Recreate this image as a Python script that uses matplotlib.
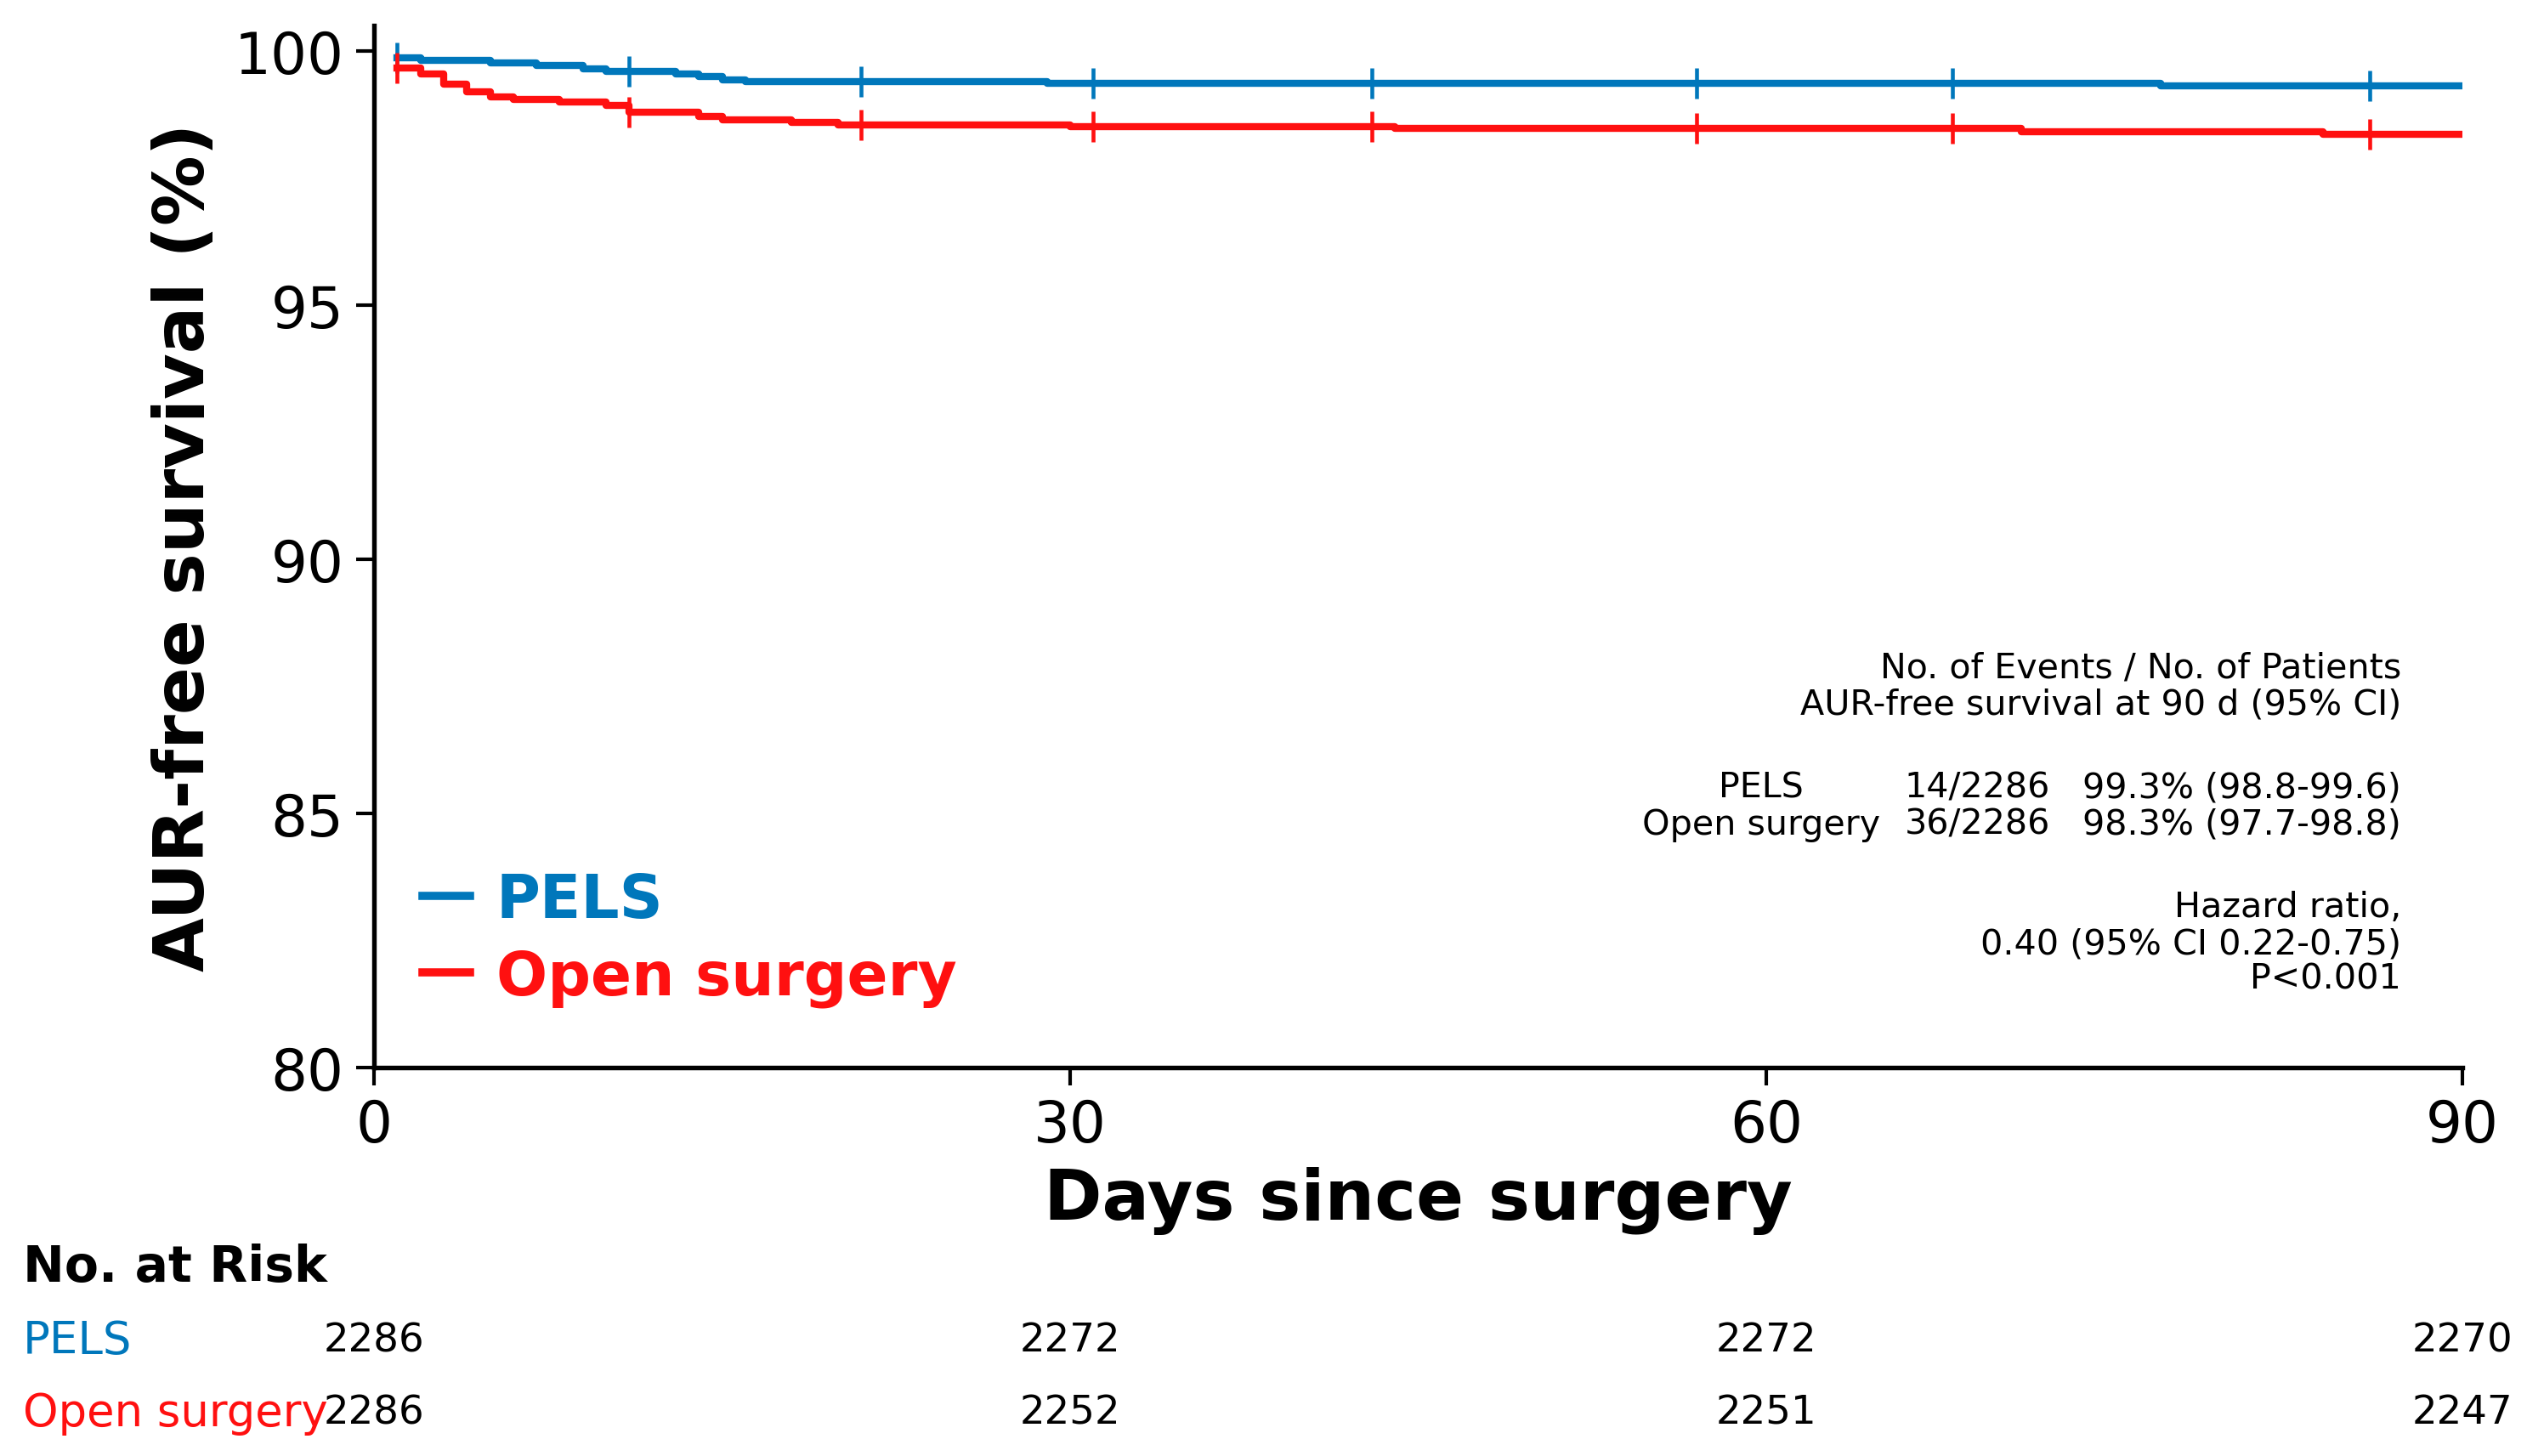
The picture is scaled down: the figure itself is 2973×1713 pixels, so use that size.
import matplotlib
matplotlib.use("Agg")
import matplotlib.pyplot as plt
import matplotlib.transforms as mtransforms

# Kaplan-Meier steps (day, AUR-free survival %)
pels_days = [1, 2, 5, 7, 9, 10, 13, 14, 15, 16, 29, 77, 90]
pels_surv = [99.87, 99.82, 99.77, 99.71, 99.65, 99.60, 99.54, 99.49, 99.43, 99.40, 99.36, 99.31, 99.31]
open_days = [1, 2, 3, 4, 5, 6, 8, 10, 11, 14, 15, 18, 20, 30, 44, 71, 84, 90]
open_surv = [99.66, 99.55, 99.34, 99.20, 99.10, 99.04, 98.99, 98.93, 98.80, 98.71, 98.65, 98.60,
             98.54, 98.51, 98.47, 98.41, 98.36, 98.36]

# censoring marks
censor_days = [1, 11, 21, 31, 43, 57, 68, 86]

# number at risk
risk_days = [0, 30, 60, 90]
pels_risk = [2286, 2272, 2272, 2270]
open_risk = [2286, 2252, 2251, 2247]

blue = "#0077bb"
red = "#ff1010"


def surv_at(days, surv, t):
    val = surv[0]
    for d, s in zip(days, surv):
        if d <= t:
            val = s
    return val


fig = plt.figure(figsize=(2973 / 300, 1714 / 300), dpi=300)
ax = fig.add_axes([0.148, 0.2666, 0.8265, 0.7153])

for days, surv, col, name in [(pels_days, pels_surv, blue, "PELS"),
                              (open_days, open_surv, red, "Open surgery")]:
    ax.step(days, surv, where="post", color=col, lw=2.0, label=name)
    cy = [surv_at(days, surv, t) for t in censor_days]
    ax.plot(censor_days, cy, ls="none", marker="|", ms=8.5, mew=1.1, color=col)

ax.set_xlim(0, 90)
ax.set_ylim(80, 100.5)
ax.set_xticks([0, 30, 60, 90])
ax.set_yticks([80, 85, 90, 95, 100])
ax.tick_params(labelsize=16.2, width=1.0, length=5)
for s in ["top", "right"]:
    ax.spines[s].set_visible(False)
for s in ["left", "bottom"]:
    ax.spines[s].set_linewidth(1.3)

ax.set_xlabel("Days since surgery", fontsize=19.8, fontweight="bold", labelpad=3.5)
ax.set_ylabel("AUR-free survival (%)", fontsize=19.8, fontweight="bold", labelpad=4.5)

leg = ax.legend(loc="center left", bbox_to_anchor=(0.023, 0.1234), frameon=False,
                handlelength=0.8, handletextpad=0.43, labelspacing=0.3,
                borderpad=0, borderaxespad=0, prop={"weight": "bold", "size": 17})
for txt, line, col in zip(leg.get_texts(), leg.get_lines(), [blue, red]):
    txt.set_color(col)
    line.set_linewidth(2.3)

# summary text block
def fy(py):
    return 1 - py / 1714


def fx(px):
    return px / 2973


tk = dict(fontsize=9.9, va="center")
fig.text(fx(2825), fy(787), "No. of Events / No. of Patients", ha="right", **tk)
fig.text(fx(2825), fy(829), "AUR-free survival at 90 d (95% CI)", ha="right", **tk)
fig.text(fx(2072), fy(928), "PELS", ha="center", **tk)
fig.text(fx(2072), fy(971), "Open surgery", ha="center", **tk)
fig.text(fx(2412), fy(928), "14/2286", ha="right", **tk)
fig.text(fx(2412), fy(971), "36/2286", ha="right", **tk)
fig.text(fx(2825), fy(928), "99.3% (98.8-99.6)", ha="right", **tk)
fig.text(fx(2825), fy(971), "98.3% (97.7-98.8)", ha="right", **tk)
fig.text(fx(2825), fy(1068), "Hazard ratio,", ha="right", **tk)
fig.text(fx(2825), fy(1111), "0.40 (95% CI 0.22-0.75)", ha="right", **tk)
fig.text(fx(2825), fy(1153), "P<0.001", ha="right", **tk)

# number at risk table
trans = mtransforms.blended_transform_factory(ax.transData, fig.transFigure)
fig.text(fx(27), fy(1492), "No. at Risk", fontsize=14, fontweight="bold", va="center")
fig.text(fx(27), fy(1578), "PELS", fontsize=12.7, color=blue, va="center")
fig.text(fx(27), fy(1663), "Open surgery", fontsize=12.7, color=red, va="center")
for d, a, b in zip(risk_days, pels_risk, open_risk):
    ax.text(d, fy(1578), str(a), transform=trans, fontsize=11.2, ha="center", va="center",
            clip_on=False)
    ax.text(d, fy(1663), str(b), transform=trans, fontsize=11.2, ha="center", va="center",
            clip_on=False)

fig.savefig("out.png", dpi=300)
